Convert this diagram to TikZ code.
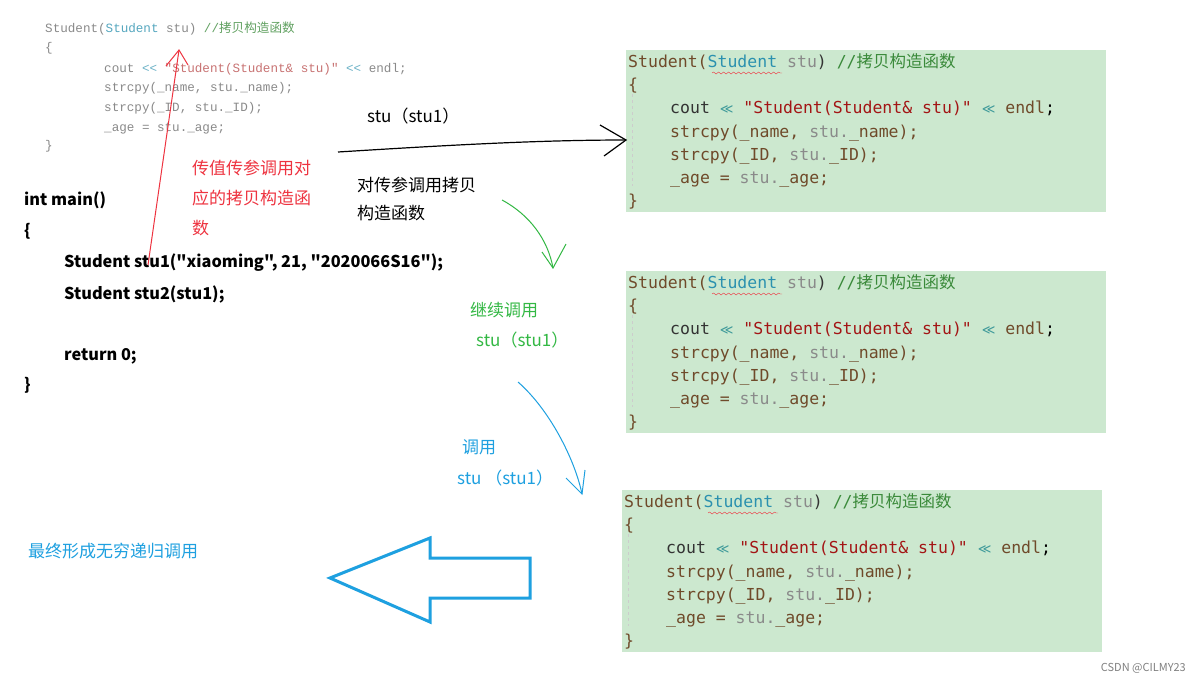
\documentclass[tikz,border=0pt]{standalone}
\usepackage{fontspec}
\setmainfont{Noto Sans CJK SC}
\newfontfamily\cjk{Noto Sans CJK SC}
\newfontfamily\mono{DejaVu Sans Mono}
\newfontfamily\smono{Liberation Mono}
\newfontfamily\dvs{DejaVu Sans}
\usetikzlibrary{decorations.pathmorphing}
\definecolor{gbg}{HTML}{CCE8CF}
\definecolor{cbrown}{HTML}{6F4A2A}
\definecolor{cteal}{HTML}{2B91AF}
\definecolor{cgray}{HTML}{8A8A8A}
\definecolor{cgreen}{HTML}{3A8A3A}
\definecolor{cstr}{HTML}{A31515}
\definecolor{cop}{HTML}{3F9A9A}
\definecolor{ctext}{HTML}{333333}
\definecolor{rd}{HTML}{EE3340}
\definecolor{bl}{HTML}{1EA0E0}
\definecolor{gr}{HTML}{33B844}
\tikzset{
 cl/.style={anchor=base west,inner sep=0pt,font=\mono\fontsize{16.5}{18}\selectfont},
 sl/.style={anchor=base west,inner sep=0pt,font=\smono\fontsize{12.6}{14}\selectfont,text=cgray},
 ml/.style={anchor=base west,inner sep=0pt,font=\cjk\bfseries\fontsize{16.3}{18}\selectfont},
 lab/.style={anchor=base west,inner sep=0pt,font=\cjk\fontsize{17}{19}\selectfont},
}
\newcommand{\llop}{\textcolor{cop}{\dvs\fontsize{13}{14}\selectfont ≪}}
\newcommand{\codebox}[3]{%
 \fill[gbg] (#1,#2) rectangle ++(480,162);
 \draw[gray!40,dashed] (#1+6,#2+44) -- (#1+6,#2+136);
 \node[cl] (#3a) at (#1+2,#2+17) {\textcolor{cbrown}{Student(}\textcolor{cteal}{Student} \textcolor{cgray}{stu}\textcolor{ctext}{)} \textcolor{cgreen}{//\cjk 拷贝构造函数}};
 \draw[rd,decorate,decoration={snake,amplitude=1pt,segment length=5pt}] (#1+86,#2+23) -- (#1+156,#2+23);
 \node[cl,text=cbrown] at (#1+2,#2+40) {\{};
 \node[cl] at (#1+44,#2+63) {\textcolor{ctext}{cout} \llop{} \textcolor{cstr}{"Student(Student\& stu)"} \llop{} \textcolor{cbrown}{endl};};
 \node[cl,text=cbrown] at (#1+44,#2+87) {strcpy(\_name, \textcolor{cgray}{stu.}\_name);};
 \node[cl,text=cbrown] at (#1+44,#2+110) {strcpy(\_ID, \textcolor{cgray}{stu.}\_ID);};
 \node[cl,text=cbrown] at (#1+44,#2+133) {\_age = \textcolor{cgray}{stu.}\_age;};
 \node[cl,text=cbrown] (#3z) at (#1+2,#2+156) {\}};
}
\begin{document}
\begin{tikzpicture}[x=1pt,y=-1pt]
\useasboundingbox (0,0) rectangle (1200,681);
\fill[white] (0,0) rectangle (1200,681);
% top-left small code
\node[sl] (s1) at (45,32) {Student(\textcolor{cteal!80}{Student} stu) \textcolor{cgreen!80}{//\cjk 拷贝构造函数}};
\node[sl] at (45,51) {\{};
\node[sl] at (104,72) {cout \textcolor{cteal!70}{<<} \textcolor{cstr!60}{"Student(Student\& stu)"} \textcolor{cteal!70}{<<} endl;};
\node[sl] at (104,91) {strcpy(\_name, stu.\_name);};
\node[sl] at (104,111) {strcpy(\_ID, stu.\_ID);};
\node[sl] at (104,131) {\_age = stu.\_age;};
\node[sl] at (45,149) {\}};
% main
\node[ml] (m1) at (24,205) {int main()};
\node[ml] at (24,236) {\{};
\node[ml] (m3) at (64,267) {Student stu1("xiaoming", 21, "2020066S16");};
\node[ml] at (64,299) {Student stu2(stu1);};
\node[ml] at (64,360) {return 0;};
\node[ml] at (24,390) {\}};
% boxes
\codebox{626}{50}{b1}
\codebox{626}{271}{b2}
\codebox{622}{490}{b3}
% labels
\node[lab,text=rd] at (192,174) {传值传参调用对};
\node[lab,text=rd] at (192,204) {应的拷贝构造函};
\node[lab,text=rd] at (192,234) {数};
\node[lab] at (367,122) {stu（stu1）};
\node[lab] at (357,191) {对传参调用拷贝};
\node[lab] at (357,219) {构造函数};
\node[lab,text=gr] at (470,316) {继续调用};
\node[lab,text=gr] at (476,346) {stu（stu1）};
\node[lab,text=bl] at (462,453) {调用};
\node[lab,text=bl] at (457,484) {stu （stu1）};
\node[lab,text=bl] at (28,557) {最终形成无穷递归调用};
\node[anchor=base east,inner sep=0pt,font=\cjk\fontsize{11}{13}\selectfont,text=gray] at (1186,671) {CSDN @CILMY23};
% arrows
\coordinate (r0) at (148,265); \coordinate (r1) at (179,50);
\draw[rd,line width=1pt] (r0) -- (r1);
\draw[rd,line width=1pt] (166,66) -- (r1) -- (188,65);
\coordinate (k0) at (338,152); \coordinate (k1) at (626,140);
\draw[line width=1.2pt] (k0) .. controls (450,145) and (540,140) .. (k1);
\draw[line width=1.2pt] (600,125) -- (k1) -- (604,156);
\coordinate (g0) at (502,200); \coordinate (g1) at (553,268);
\draw[gr,line width=1pt] (g0) .. controls (530,215) and (548,240) .. (g1);
\draw[gr,line width=1pt] (542,252) -- (g1) -- (566,244);
\coordinate (c0) at (518,382); \coordinate (c1) at (582,494);
\draw[bl,line width=1pt] (c0) .. controls (550,410) and (575,460) .. (c1);
\draw[bl,line width=1pt] (566,478) -- (c1) -- (585,470);
\draw[bl,line width=3pt,line join=miter] (330,578) -- (430,538) -- (430,558) -- (530,558) -- (530,598) -- (430,598) -- (430,622) -- cycle;
\end{tikzpicture}
\end{document}
